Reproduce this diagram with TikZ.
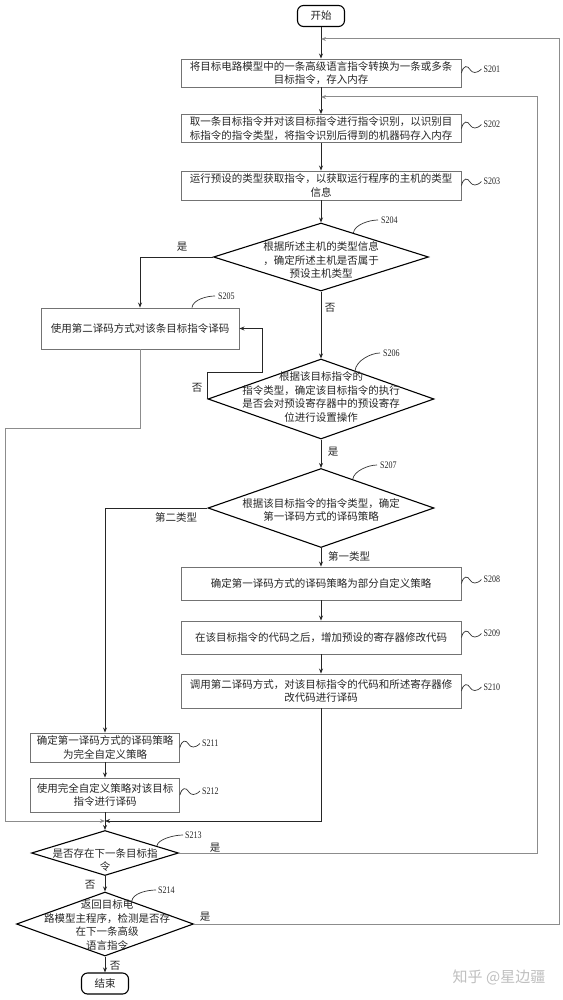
\documentclass[tikz,border=0pt]{standalone}
\usepackage{fontspec}
\setmainfont{Noto Sans CJK SC}
\newfontfamily\labfont[FakeStretch=0.8]{Liberation Serif}
\usetikzlibrary{shapes.geometric,arrows.meta,calc}
\begin{document}
\begin{tikzpicture}[x=1pt,y=-1pt,
  every node/.style={text=black!85, font=\fontsize{10.5}{13.5}\selectfont},
  box/.style={draw=black!55, line width=0.9pt, rectangle, inner sep=0pt, align=center},
  dia/.style={draw=black, line width=1.1pt, diamond, inner sep=0pt},
  term/.style={draw=black, line width=1.1pt, rounded corners=6pt, minimum width=47pt, minimum height=21pt, inner sep=0pt},
  txt/.style={align=center, inner sep=0pt},
  lab/.style={font=\labfont\fontsize{10}{10}\selectfont, inner sep=0pt, anchor=west},
  yn/.style={inner sep=0pt},
  conn/.style={draw=black!85, line width=0.8pt, -{Stealth[length=5pt,width=4pt]}},
  back/.style={draw=black!45, line width=1pt, -{Stealth[length=5pt,width=4pt]}},
  sq/.style={draw=black!80, line width=0.7pt},
  wave/.pic={\draw[sq] (0,0) .. controls (2,-8) and (6,-8) .. (9,-3) .. controls (11,0) and (15,1) .. (20,-4);}
]
\fill[white] (0,0) rectangle (562,1000);
\useasboundingbox (0,0) rectangle (562,1000);

% nodes
\node[term] (start) at (321,16) {开始};
\node[box, minimum width=280pt, minimum height=28pt] (b201) at (321,73) {将目标电路模型中的一条高级语言指令转换为一条或多条\\目标指令，存入内存};
\node[box, minimum width=280pt, minimum height=28pt] (b202) at (321,128.5) {取一条目标指令并对该目标指令进行指令识别，以识别目\\标指令的指令类型，将指令识别后得到的机器码存入内存};
\node[box, minimum width=280pt, minimum height=29pt] (b203) at (321,185.5) {运行预设的类型获取指令，以获取运行程序的主机的类型\\信息};
\node[dia, minimum width=215pt, minimum height=68pt] (d204) at (321,257) {};
\node[txt] (t204) at (321,260) {根据所述主机的类型信息\\，确定所述主机是否属于\\预设主机类型};
\node[box, minimum width=198pt, minimum height=41pt] (b205) at (140,328.5) {使用第二译码方式对该条目标指令译码};
\node[dia, minimum width=226pt, minimum height=80pt] (d206) at (321,399) {};
\node[txt] (t206) at (321,397) {根据该目标指令的\\指令类型，确定该目标指令的执行\\是否会对预设寄存器中的预设寄存\\位进行设置操作};
\node[dia, minimum width=226pt, minimum height=79pt] (d207) at (321,508) {};
\node[txt] (t207) at (321,510) {根据该目标指令的指令类型，确定\\第一译码方式的译码策略};
\node[box, minimum width=280pt, minimum height=33pt] (b208) at (321,583.5) {确定第一译码方式的译码策略为部分自定义策略};
\node[box, minimum width=280pt, minimum height=33pt] (b209) at (321,637.5) {在该目标指令的代码之后，增加预设的寄存器修改代码};
\node[box, minimum width=280pt, minimum height=34pt] (b210) at (321,691) {调用第二译码方式，对该目标指令的代码和所述寄存器修\\改代码进行译码};
\node[box, minimum width=149pt, minimum height=29pt] (b211) at (105,747.5) {确定第一译码方式的译码策略\\为完全自定义策略};
\node[box, minimum width=149pt, minimum height=34pt] (b212) at (105,795) {使用完全自定义策略对该目标\\指令进行译码};
\node[dia, minimum width=147pt, minimum height=45pt] (d213) at (105,853) {};
\node[txt] (t213) at (105,860) {是否存在下一条目标指\\令};
\node[dia, minimum width=177pt, minimum height=64pt] (d214) at (105,924) {};
\node[txt] (t214) at (107,925) {返回目标电\\路模型主程序，检测是否存\\在下一条高级\\语言指令};
\node[term] (end) at (105,983.5) {结束};

% branch labels
\node[yn] (y204) at (182,247) {是};
\node[yn] (n204) at (330,308) {否};
\node[yn] (n206) at (197,388) {否};
\node[yn] (y206) at (333,452) {是};
\node[yn] (k2) at (176,517) {第二类型};
\node[yn] (k1) at (349,556) {第一类型};
\node[yn] (y213) at (215,848) {是};
\node[yn] (n213) at (90,885) {否};
\node[yn] (y214) at (205,917) {是};
\node[yn] (n214) at (115,966) {否};

% step labels
\foreach \b/\s in {b201/S201,b202/S202,b203/S203,b208/S208,b209/S209,b210/S210,b211/S211,b212/S212}{
  \pic at (\b.east) {wave};
  \node[lab] (l\b) at ([xshift=22pt,yshift=4pt]\b.east) {\s};
}
\node[lab] (s204) at (381,220) {S204};
\node[lab] (s205) at (218,296) {S205};
\node[lab] (s206) at (383,353) {S206};
\node[lab] (s207) at (380,465) {S207};
\node[lab] (s213) at (185,835) {S213};
\node[lab] (s214) at (158,890) {S214};
\draw[sq] ($(d204.north)!0.3!(d204.east)$) .. controls +(1,-8) and +(-9,0) .. ([xshift=-3pt]s204.west);
\draw[sq] ([xshift=52pt]b205.north) .. controls +(1,-8) and +(-8,0) .. ([xshift=-3pt]s205.west);
\draw[sq] ($(d206.north)!0.3!(d206.east)$) .. controls +(1,-10) and +(-9,0) .. ([xshift=-3pt]s206.west);
\draw[sq] ($(d207.north)!0.28!(d207.east)$) .. controls +(1,-8) and +(-9,0) .. ([xshift=-3pt]s207.west);
\draw[sq] ($(d213.north)!0.7!(d213.east)$) .. controls +(1,-7) and +(-9,0) .. ([xshift=-2pt]s213.west);
\draw[sq] ($(d214.north)!0.3!(d214.east)$) .. controls +(1,-8) and +(-9,0) .. ([xshift=-2pt]s214.west);

% coordinates
\coordinate (a2) at (321,39);
\coordinate (r2) at (559,39);
\coordinate (a1) at (321,97);
\coordinate (r1) at (537,97);
\coordinate (c206) at (262,372);
\coordinate (c205) at (5,428);
\coordinate (m) at (105,821);

% connectors
\draw[conn] (start) -- (b201);
\draw[conn] (b201) -- (b202);
\draw[conn] (b202) -- (b203);
\draw[conn] (b203) -- (d204.north);
\draw[conn] (d204.south) -- (d206.north);
\draw[conn] (d206.south) -- (d207.north);
\draw[conn] (d207.south) -- (b208);
\draw[conn] (b208) -- (b209);
\draw[conn] (b209) -- (b210);
\draw[conn] (d204.west) -| (b205.north);
\draw[conn] (d206.west) |- (c206) |- (b205.east);
\draw[back] (b205.south) |- (c205) |- (m);
\draw[conn] (b210.south) |- (m);
\draw[conn] (d207.west) -| (b211.north);
\draw[conn] (b211) -- (b212);
\draw[conn] (b212) -- (d213.north);
\draw[conn] (d213.south) -- (d214.north);
\draw[conn] (d214.south) -- (end);
\draw[back] (d213.east) -| (r1) -- (a1);
\draw[back] (d214.east) -| (r2) -- (a2);

% watermark
\node[text=black!25, font=\fontsize{15}{15}\selectfont] (wm) at (499,977) {知乎 @星边疆};
\end{tikzpicture}
\end{document}
